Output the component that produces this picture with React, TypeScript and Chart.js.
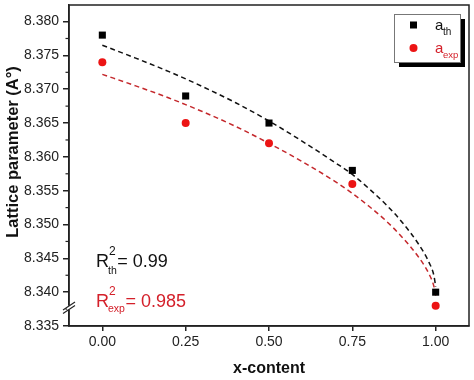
import React, { useEffect, useRef } from "react";
import { Chart, registerables } from "chart.js";

Chart.register(...registerables);

const xContent = [0, 0.25, 0.5, 0.75, 1.0];
const aTh = [8.378, 8.369, 8.365, 8.358, 8.34];
const aExp = [8.374, 8.365, 8.362, 8.356, 8.338];

const fitX = [0, 0.1, 0.2, 0.3, 0.4, 0.5, 0.6, 0.7, 0.75, 0.8, 0.85, 0.9, 0.95, 0.98, 0.995, 1.0];
const fitTh = [8.3765, 8.3746, 8.3726, 8.3704, 8.368, 8.3653, 8.3623, 8.3591, 8.3574, 8.3553, 8.353, 8.3503, 8.347, 8.3444, 8.3424, 8.3408];
const fitExp = [8.3722, 8.3705, 8.3687, 8.3667, 8.3645, 8.362, 8.3593, 8.3563, 8.3546, 8.3527, 8.3506, 8.3481, 8.3451, 8.3427, 8.3408, 8.3395];

const xTicks = [0, 0.25, 0.5, 0.75, 1.0];
const yTicks = [8.335, 8.34, 8.345, 8.35, 8.355, 8.36, 8.365, 8.37, 8.375, 8.38];
const yMinorTicks = [8.3375, 8.3425, 8.3475, 8.3525, 8.3575, 8.3625, 8.3675, 8.3725, 8.3775];

const FONT = "'Liberation Sans', Arial, sans-serif";
const AXIS = "#222";
const RED = "rgb(236,20,20)";
const DARKRED = "rgb(196,40,44)";
const TEXTRED = "rgb(212,32,42)";

const extras = {
  id: "extras",
  afterDraw(chart: any) {
    const ctx = chart.ctx;
    const a = chart.chartArea;
    const ys = chart.scales.y;
    ctx.save();
    // box
    ctx.strokeStyle = AXIS;
    ctx.lineWidth = 1.5;
    ctx.strokeRect(a.left, a.top, a.right - a.left, a.bottom - a.top);
    // minor ticks
    ctx.lineWidth = 1.2;
    for (const v of yMinorTicks) {
      const y = ys.getPixelForValue(v);
      ctx.beginPath();
      ctx.moveTo(a.left - 3.5, y);
      ctx.lineTo(a.left, y);
      ctx.stroke();
    }
    // axis break
    const by = ys.getPixelForValue(8.3377);
    ctx.fillStyle = "#fff";
    ctx.fillRect(a.left - 2, by - 2, 4, 4);
    ctx.strokeStyle = AXIS;
    ctx.lineWidth = 1.2;
    for (const off of [-1.8, 1.8]) {
      ctx.beginPath();
      ctx.moveTo(a.left - 6, by + off + 4);
      ctx.lineTo(a.left + 6, by + off - 4);
      ctx.stroke();
    }
    // axis titles
    ctx.fillStyle = "#111";
    ctx.font = `bold 16px ${FONT}`;
    ctx.textAlign = "center";
    ctx.textBaseline = "alphabetic";
    ctx.fillText("x-content", (a.left + a.right) / 2, 373);
    ctx.save();
    ctx.translate(18, 152);
    ctx.rotate(-Math.PI / 2);
    ctx.font = `bold 16.5px ${FONT}`;
    ctx.fillText("Lattice parameter (A°)", 0, 0);
    ctx.restore();

    // R^2 annotations
    const drawR = (y: number, sub: string, subDy: number, rest: string, color: string) => {
      ctx.fillStyle = color;
      ctx.textAlign = "left";
      ctx.font = `18px ${FONT}`;
      ctx.fillText("R", 96, y);
      ctx.font = `12px ${FONT}`;
      ctx.fillText("2", 109, y - 12);
      ctx.font = `10.5px ${FONT}`;
      ctx.fillText(sub, 108, y + subDy);
      const w = ctx.measureText(sub).width;
      ctx.font = `18px ${FONT}`;
      ctx.fillText(rest, 108 + w + 0.5, y);
    };
    drawR(267, "th", 6.5, "= 0.99", "#111");
    drawR(306.5, "exp", 5, "= 0.985", TEXTRED);

    // legend
    const lx = 394, ly = 14, lw = 66, lh = 48;
    ctx.fillStyle = "#000";
    ctx.fillRect(lx + 5, ly + 5, lw, lh);
    ctx.fillStyle = "#fff";
    ctx.fillRect(lx, ly, lw, lh);
    ctx.strokeStyle = "#777";
    ctx.lineWidth = 1;
    ctx.strokeRect(lx + 0.5, ly + 0.5, lw, lh);
    ctx.fillStyle = "#000";
    ctx.fillRect(410, 21.5, 7, 7);
    ctx.fillStyle = RED;
    ctx.beginPath();
    ctx.arc(413.5, 48, 4, 0, Math.PI * 2);
    ctx.fill();
    ctx.textAlign = "left";
    ctx.font = `15px ${FONT}`;
    ctx.fillStyle = "#111";
    ctx.fillText("a", 435, 29.5);
    ctx.font = `10px ${FONT}`;
    ctx.fillText("th", 443, 35);
    ctx.font = `15px ${FONT}`;
    ctx.fillStyle = TEXTRED;
    ctx.fillText("a", 435, 52.5);
    ctx.font = `9.5px ${FONT}`;
    ctx.fillText("exp", 443, 57.5);
    ctx.restore();
  },
};

export default function App() {
  const ref = useRef<HTMLCanvasElement>(null);
  useEffect(() => {
    if (!ref.current) return;
    const chart = new Chart(ref.current, {
      type: "scatter",
      data: {
        datasets: [
          {
            label: "a_th",
            data: xContent.map((x, i) => ({ x, y: aTh[i] })),
            pointStyle: "rect",
            pointRadius: 5,
            backgroundColor: "#000",
            borderColor: "#000",
            borderWidth: 0,
            order: 0,
          },
          {
            label: "a_exp",
            data: xContent.map((x, i) => ({ x, y: aExp[i] })),
            pointStyle: "circle",
            pointRadius: 4,
            backgroundColor: RED,
            borderColor: RED,
            borderWidth: 0,
            order: 0,
          },
          {
            label: "fit th",
            data: fitX.map((x, i) => ({ x, y: fitTh[i] })),
            showLine: true,
            pointRadius: 0,
            borderColor: "#111",
            borderWidth: 1.5,
            borderDash: [5, 3.5],
            cubicInterpolationMode: "monotone",
            order: 1,
          },
          {
            label: "fit exp",
            data: fitX.map((x, i) => ({ x, y: fitExp[i] })),
            showLine: true,
            pointRadius: 0,
            borderColor: DARKRED,
            borderWidth: 1.5,
            borderDash: [5, 3.5],
            cubicInterpolationMode: "monotone",
            order: 1,
          },
        ],
      } as any,
      options: {
        responsive: false,
        animation: false,
        devicePixelRatio: 1,
        layout: { padding: { top: 4, right: 3, left: 0, bottom: 0 } },
        plugins: { legend: { display: false }, tooltip: { enabled: false } },
        scales: {
          x: {
            type: "linear",
            min: -0.1,
            max: 1.1,
            afterBuildTicks: (s: any) => {
              s.ticks = xTicks.map((v) => ({ value: v }));
            },
            afterFit: (s: any) => {
              s.height = 54;
              s.paddingLeft = 0;
              s.paddingRight = 0;
            },
            ticks: {
              callback: (v: any) => Number(v).toFixed(2),
              font: { family: FONT, size: 14 },
              color: "#222",
              padding: 3,
              maxRotation: 0,
              autoSkip: false,
            },
            grid: { drawOnChartArea: false, drawTicks: true, tickLength: 5, color: AXIS, lineWidth: 1.5 },
            border: { display: true, color: AXIS, width: 1.5 },
          },
          y: {
            type: "linear",
            min: 8.335,
            max: 8.38245,
            afterBuildTicks: (s: any) => {
              s.ticks = yTicks.map((v) => ({ value: v }));
            },
            afterFit: (s: any) => {
              s.width = 69;
              s.paddingTop = 0;
              s.paddingBottom = 0;
            },
            ticks: {
              callback: (v: any) => Number(v).toFixed(3),
              font: { family: FONT, size: 14 },
              color: "#222",
              padding: 4,
              autoSkip: false,
            },
            grid: { drawOnChartArea: false, drawTicks: true, tickLength: 6, color: AXIS, lineWidth: 1.5 },
            border: { display: true, color: AXIS, width: 1.5 },
          },
        },
      } as any,
      plugins: [extras],
    });
    return () => chart.destroy();
  }, []);
  return (
    <div style={{ position: "absolute", left: 0, top: 0, width: 474, height: 380, background: "#fff" }}>
      <canvas ref={ref} width={474} height={380} />
    </div>
  );
}
